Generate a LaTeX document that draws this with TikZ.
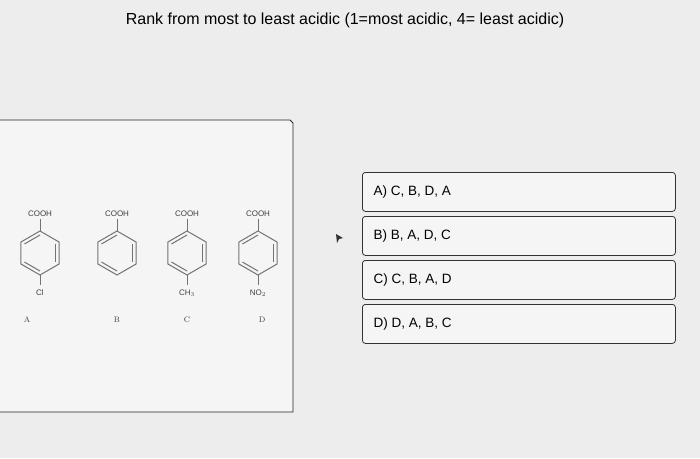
\documentclass[tikz,border=0pt]{standalone}
\usepackage{fontspec}
\setmainfont{Liberation Sans}
\usetikzlibrary{calc}
\begin{document}
\begin{tikzpicture}[x=1pt,y=-1pt,
  ans/.style={draw=black!80,line width=0.8pt,rounded corners=3pt,minimum width=313pt,minimum height=39pt,anchor=north west,inner sep=0pt},
  anstxt/.style={font=\fontsize{13.5}{15}\selectfont,anchor=west},
  lbl/.style={font=\fontsize{8}{9}\selectfont,text=black!75,inner sep=1pt},
  letter/.style={font=\fontfamily{lmr}\fontsize{8}{9}\selectfont,text=black!75},
  bond/.style={draw=black!55,line width=1pt}]
\fill[black!7] (0,0) rectangle (700,458);
\useasboundingbox (0,0) rectangle (700,458);
\node (title) at (345,20) {\fontsize{16}{18}\selectfont Rank from most to least acidic (1=most acidic, 4= least acidic)};
\draw[black!85,line width=0.9pt,fill=black!4] (-2,120) -- (290,120) -- (293,123) -- (293,412) -- (-2,412);
\node[ans,fill=black!4] (a) at (362,172) {};
\node[ans,fill=black!4] (b) at (362,216) {};
\node[ans,fill=black!4] (c) at (362,260) {};
\node[ans,fill=black!4] (d) at (362,304) {};
\node[anstxt] at ([xshift=8pt]a.west) {A) C, B, D, A};
\node[anstxt] at ([xshift=8pt]b.west) {B) B, A, D, C};
\node[anstxt] at ([xshift=8pt]c.west) {C) C, B, A, D};
\node[anstxt] at ([xshift=8pt]d.west) {D) D, A, B, C};
\fill[black!80] (336,234) -- (343,238) -- (339,239) -- (337,243) -- cycle;
\foreach \cx/\sub/\hs/\L/\lx in {40/Cl/1/A/27, 117/ /0/B/117, 187/CH$_3$/1/C/187, 258/NO$_2$/1/D/262}{
  \coordinate (r) at (\cx,253);
  \draw[bond] ($(r)+(-90:22)$) -- ($(r)+(-30:22)$) -- ($(r)+(30:22)$) -- ($(r)+(90:22)$) -- ($(r)+(150:22)$) -- ($(r)+(210:22)$) -- cycle;
  \draw[bond] ($(r)+(-30:18)$) -- ($(r)+(30:18)$);
  \draw[bond] ($(r)+(150:18)$) -- ($(r)+(90:18)$);
  \draw[bond] ($(r)+(-90:18)$) -- ($(r)+(210:18)$);
  \draw[bond] (\cx,231) -- (\cx,219);
  \node[lbl] at (\cx,214) {COOH};
  \ifnum\hs=1
    \draw[bond] (\cx,275) -- (\cx,285);
    \node[lbl] at (\cx,293) {\sub};
  \fi
  \node[letter] at (\lx,320) {\L};
}
\end{tikzpicture}
\end{document}
